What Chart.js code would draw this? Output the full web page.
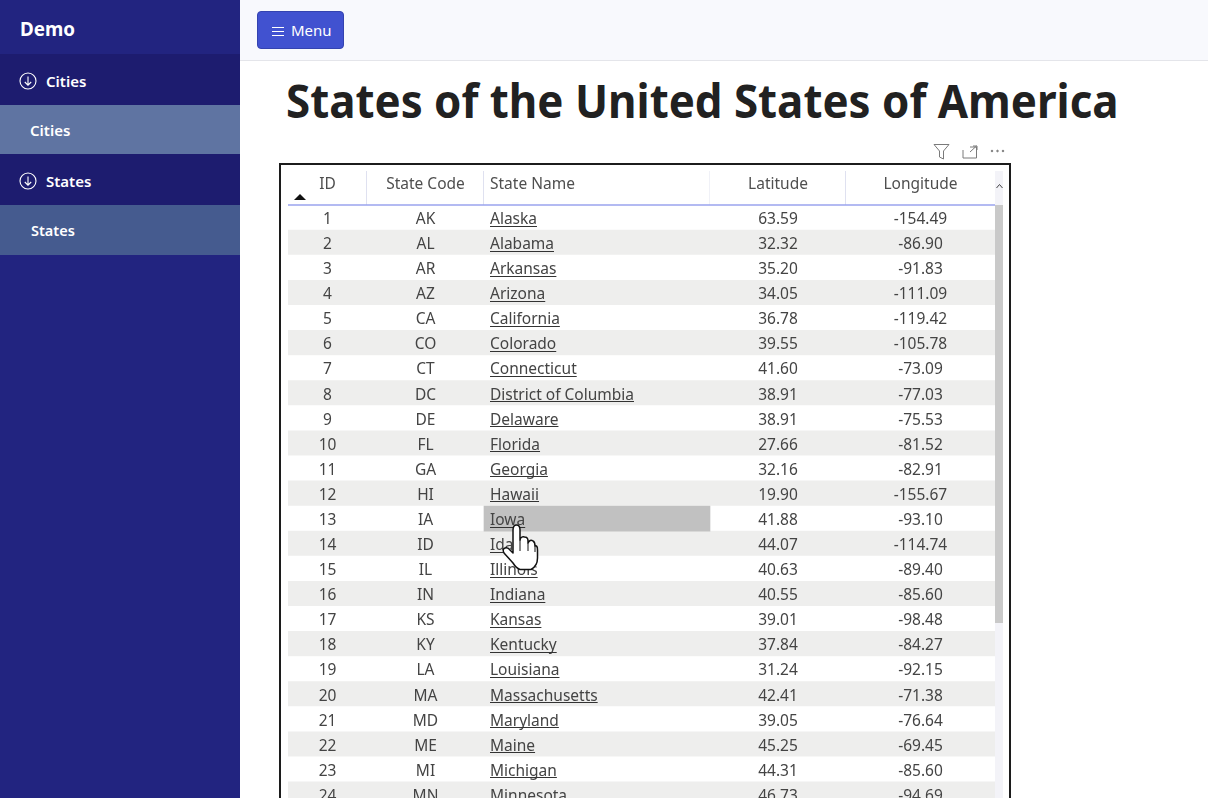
<!DOCTYPE html>
<html>
<head>
<meta charset="utf-8">
<title>States</title>
<script src="https://cdn.jsdelivr.net/npm/chart.js@4"></script>
<style>
  html, body { margin: 0; padding: 0; width: 1208px; height: 798px; overflow: hidden; background: #fff; font-family: "Noto Sans", sans-serif; }
  .box { position: absolute; }
  .side { color: #fff; font-weight: 600; white-space: nowrap; line-height: 1; }
  #table { position: absolute; left: 281px; top: 165px; }
</style>
</head>
<body>
<!-- sidebar -->
<div class="box" style="left:0;top:0;width:240px;height:798px;background:#222480"></div>
<div class="box" style="left:0;top:54px;width:240px;height:51px;background:#1d1c6f"></div>
<div class="box" style="left:0;top:105px;width:240px;height:49px;background:#5f74a2"></div>
<div class="box" style="left:0;top:154px;width:240px;height:51px;background:#1d1c6f"></div>
<div class="box" style="left:0;top:205px;width:240px;height:50px;background:#455b8f"></div>
<div class="box side" style="left:20px;top:20px;font-size:18.800px;font-weight:700">Demo</div>
<div class="box side" style="left:46px;top:74px;font-size:15px">Cities</div>
<div class="box side" style="left:30px;top:123px;font-size:15px">Cities</div>
<div class="box side" style="left:46px;top:174px;font-size:15px">States</div>
<div class="box side" style="left:31px;top:223px;font-size:14.500px">States</div>
<svg class="box" style="left:0;top:0" width="240" height="200" fill="none" stroke="#fff" stroke-width="1.1">
  <circle cx="28" cy="81" r="8"/><path d="M28 76.500V85M24.800 82l3.200 3.200 3.200-3.200"/>
  <circle cx="28" cy="181" r="8"/><path d="M28 176.500V185M24.800 182l3.200 3.200 3.200-3.200"/>
</svg>

<!-- top bar -->
<div class="box" style="left:240px;top:0;width:968px;height:60px;background:#f8f9fd;border-bottom:1px solid #e4e5ea"></div>
<div class="box" style="left:257px;top:11px;width:85px;height:36px;background:#4152d0;border:1px solid #3443b0;border-radius:4px"></div>
<svg class="box" style="left:272px;top:26px" width="12" height="12" stroke="#fff" stroke-width="1"><path d="M0 1.500H12M0 5.500H12M0 9.500H12"/></svg>
<div class="box" style="left:291px;top:20px;color:#fff;font-size:15px;line-height:20px">Menu</div>

<!-- title -->
<div class="box" id="title" style="left:286px;top:68px;color:#212121;font-size:46px;font-weight:700;line-height:64px;white-space:nowrap;transform:scaleX(.953);transform-origin:left center">States of the United States of America</div>

<!-- visual header icons -->
<svg class="box" style="left:930px;top:140px" width="80" height="22" fill="none" stroke="#7a7a7a" stroke-width="1">
  <path d="M4 4.500H19L13.500 11V19L9.500 17V11Z"/>
  <path d="M33 10V18H46.500V7H40M40 12L46.500 6M43 6H47V10"/>
  <circle cx="62" cy="11" r=".8" fill="#7a7a7a"/><circle cx="67.500" cy="11" r=".8" fill="#7a7a7a"/><circle cx="73" cy="11" r=".8" fill="#7a7a7a"/>
</svg>

<!-- table frame, scrollbar -->
<div class="box" style="left:279px;top:163px;width:728px;height:700px;border:2px solid #1c1c1c"></div>
<div class="box" style="left:995px;top:171px;width:8px;height:640px;background:#f3f3f8"></div>
<div class="box" style="left:995px;top:205px;width:8px;height:418px;background:#c9c9c9"></div>
<svg class="box" style="left:995px;top:182px" width="9" height="8" fill="none" stroke="#444" stroke-width="1"><path d="M1.500 6L4.500 2.500 7.500 6"/></svg>

<canvas id="table" width="714" height="642"></canvas>

<!-- pointer cursor over the Iowa row -->
<svg class="box" style="left:0;top:0;pointer-events:none" width="1208" height="798" fill="#fff" stroke="#111" stroke-width="1.500" stroke-linejoin="round">
  <path d="M513 530Q513 525 516.500 525Q520 525 520 530V540Q521 536 524.500 537Q528 537 528 541V543Q530 539 533 541Q535 542 535 546Q537.500 545 537.500 550V558Q537.500 566 531 569.500H520Q516 568 513 563L504 553Q502 549 505 548Q508 547 510 550L513 553Z"/>
  <path d="M520 540V551M528 543V551M535 546V552" fill="none" stroke-width="1"/>
</svg>

<script>
const ids = [1, 2, 3, 4, 5, 6, 7, 8, 9, 10, 11, 12, 13, 14, 15, 16, 17, 18, 19, 20, 21, 22, 23, 24];
const stateCodes = ['AK', 'AL', 'AR', 'AZ', 'CA', 'CO', 'CT', 'DC', 'DE', 'FL', 'GA', 'HI', 'IA', 'ID', 'IL', 'IN', 'KS', 'KY', 'LA', 'MA', 'MD', 'ME', 'MI', 'MN'];
const stateNames = ['Alaska', 'Alabama', 'Arkansas', 'Arizona', 'California', 'Colorado', 'Connecticut', 'District of Columbia', 'Delaware', 'Florida', 'Georgia', 'Hawaii', 'Iowa', 'Idaho', 'Illinois', 'Indiana', 'Kansas', 'Kentucky', 'Louisiana', 'Massachusetts', 'Maryland', 'Maine', 'Michigan', 'Minnesota'];
const latitudes = [63.59, 32.32, 35.20, 34.05, 36.78, 39.55, 41.60, 38.91, 38.91, 27.66, 32.16, 19.90, 41.88, 44.07, 40.63, 40.55, 39.01, 37.84, 31.24, 42.41, 39.05, 45.25, 44.31, 46.73];
const longitudes = [-154.49, -86.90, -91.83, -111.09, -119.42, -105.78, -73.09, -77.03, -75.53, -81.52, -82.91, -155.67, -93.10, -114.74, -89.40, -85.60, -98.48, -84.27, -92.15, -71.38, -76.64, -69.45, -85.60, -94.69];
const columnTitles = ['ID', 'State Code', 'State Name', 'Latitude', 'Longitude'];
const columnEdges = [0, 79, 196, 422, 558, 707];
const hoveredRow = 'IA';

const CELL_FONT = '15.5px "Noto Sans"';
const HEADER_FONT = '15.5px "Noto Sans"';
const NAME_INSET = 6;
const TEXT_DROP = 2;

// stripes, the hovered cell, and all the cell text go through the chart's own scales
const cellTextPlugin = {
  id: 'cellText',
  afterDatasetsDraw(chart) {
    const { ctx, scales: { x, y } } = chart;
    const center = c => (x.getPixelForValue(columnEdges[c]) + x.getPixelForValue(columnEdges[c + 1])) / 2;
    const nameX = x.getPixelForValue(columnEdges[2] + NAME_INSET);
    const headY = y.getPixelForValue(0) - 35 + TEXT_DROP;

    ctx.save();
    ctx.textBaseline = 'middle';

    // header
    ctx.font = HEADER_FONT;
    ctx.fillStyle = '#4f4f4f';
    columnTitles.forEach((t, c) => {
      ctx.textAlign = c === 2 ? 'left' : 'center';
      ctx.fillText(t, c === 2 ? nameX : center(c), headY);
    });
    ctx.lineWidth = 1;
    for (let c = 1; c < columnEdges.length - 1; c++) {
      const px = Math.round(x.getPixelForValue(columnEdges[c])) - 0.5;
      ctx.strokeStyle = c === 3 ? '#f0f1f7' : '#dfe1f0';
      ctx.beginPath();
      ctx.moveTo(px, chart.chartArea.top - 34);
      ctx.lineTo(px, chart.chartArea.top);
      ctx.stroke();
    }
    ctx.strokeStyle = '#9aa3ee';
    ctx.lineWidth = 1.5;
    ctx.beginPath();
    ctx.moveTo(chart.chartArea.left, chart.chartArea.top);
    ctx.lineTo(chart.chartArea.right, chart.chartArea.top);
    ctx.stroke();

    // sort arrow under ID
    ctx.fillStyle = '#111';
    ctx.beginPath();
    ctx.moveTo(x.getPixelForValue(12) - 6, chart.chartArea.top - 5);
    ctx.lineTo(x.getPixelForValue(12) + 6, chart.chartArea.top - 5);
    ctx.lineTo(x.getPixelForValue(12), chart.chartArea.top - 11);
    ctx.closePath();
    ctx.fill();

    // rows
    ctx.font = CELL_FONT;
    ctx.fillStyle = '#444';
    ctx.strokeStyle = '#333';
    ctx.lineWidth = 1;
    ids.forEach((id, i) => {
      const py = y.getPixelForValue(i);
      ctx.textAlign = 'center';
      ctx.fillText(String(id), center(0), py + TEXT_DROP);
      ctx.fillText(stateCodes[i], center(1), py + TEXT_DROP);
      ctx.fillText(latitudes[i].toFixed(2), center(3), py + TEXT_DROP);
      ctx.fillText(longitudes[i].toFixed(2), center(4), py + TEXT_DROP);
      ctx.textAlign = 'left';
      ctx.fillText(stateNames[i], nameX, py + TEXT_DROP);
      const w = ctx.measureText(stateNames[i]).width;
      ctx.beginPath();
      ctx.moveTo(nameX, Math.round(py) + 8.5);
      ctx.lineTo(nameX + w, Math.round(py) + 8.5);
      ctx.stroke();
    });
    ctx.restore();
  }
};

const chart = new Chart(document.getElementById('table'), {
  type: 'bar',
  data: {
    labels: stateCodes,
    datasets: [
      {
        label: 'Hovered cell',
        data: stateCodes.map(c => c === hoveredRow ? [columnEdges[2], columnEdges[3]] : null),
        backgroundColor: '#c1c1c1',
        barPercentage: 1,
        categoryPercentage: 1,
        order: 1
      },
      {
        label: 'Rows',
        data: ids.map(() => [columnEdges[0], columnEdges[5]]),
        backgroundColor: ids.map((id, i) => i % 2 ? '#eeeeed' : '#ffffff'),
        barPercentage: 1,
        categoryPercentage: 1,
        order: 2
      }
    ]
  },
  options: {
    indexAxis: 'y',
    responsive: false,
    animation: false,
    events: [],
    layout: { padding: { left: 7, right: 0, top: 40, bottom: 0 } },
    plugins: { legend: { display: false }, tooltip: { enabled: false } },
    datasets: { bar: { grouped: false } },
    scales: {
      x: { display: false, min: columnEdges[0], max: columnEdges[5] },
      y: { display: false, type: 'category' }
    }
  },
  plugins: [cellTextPlugin]
});
</script>
</body>
</html>
